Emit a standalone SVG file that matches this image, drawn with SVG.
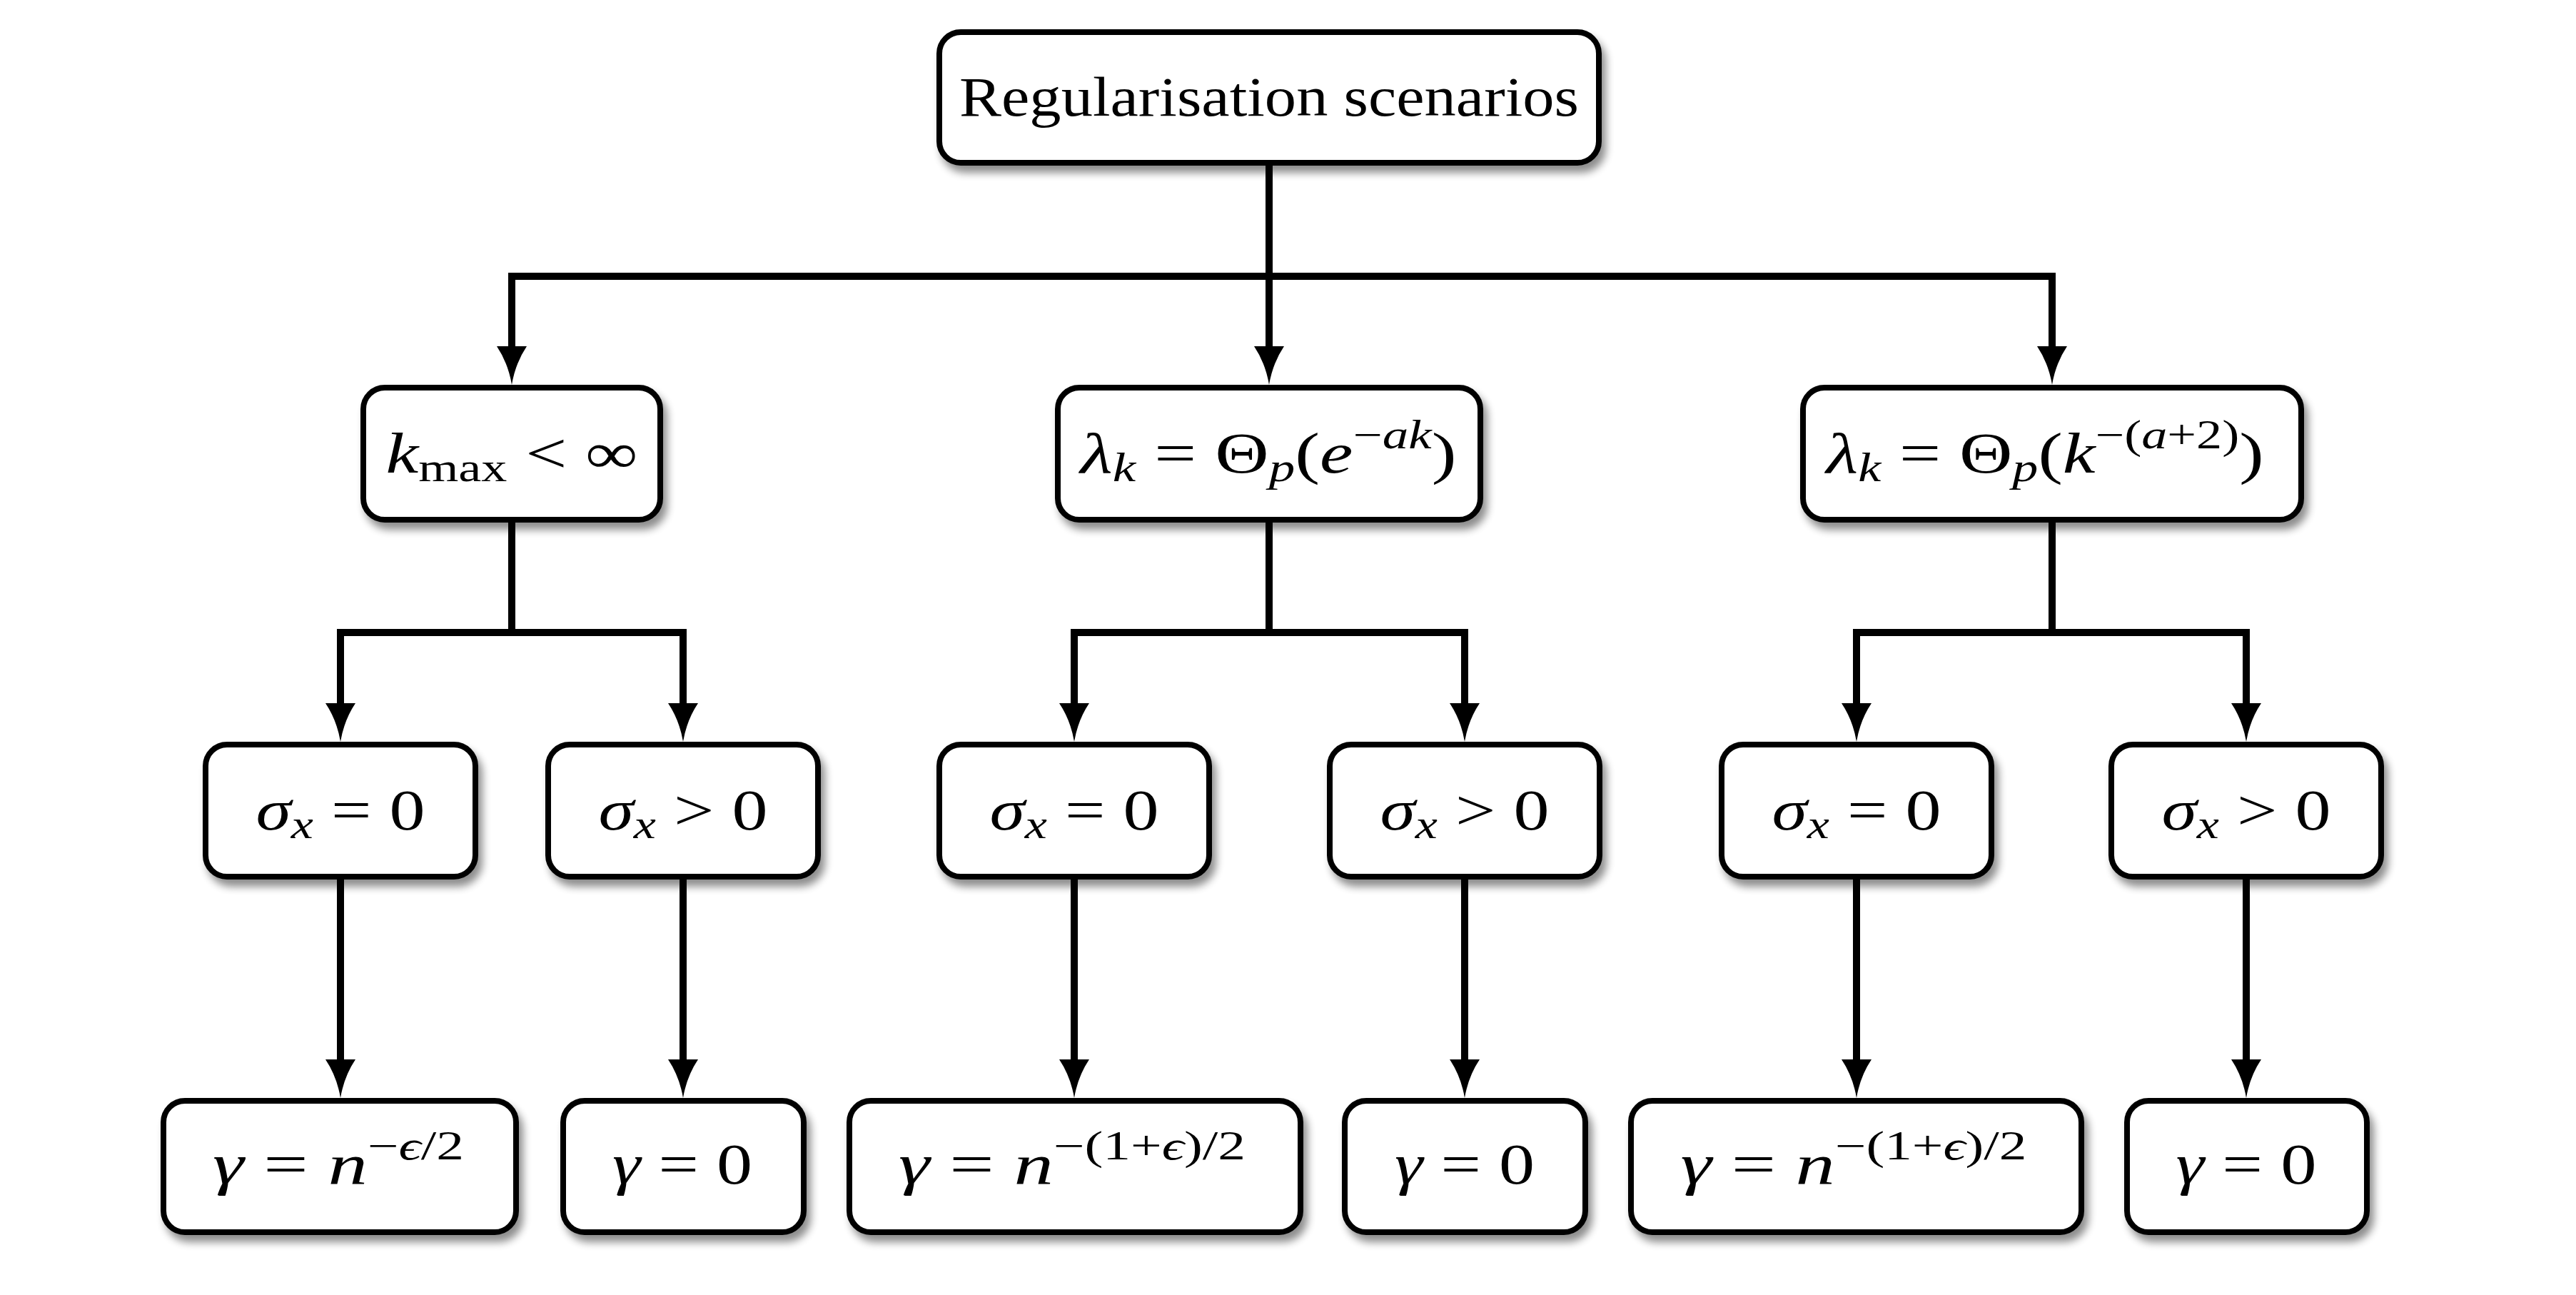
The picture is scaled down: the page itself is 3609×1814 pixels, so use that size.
<svg xmlns="http://www.w3.org/2000/svg" width="3609" height="1814" viewBox="0 0 3609 1814">
<defs>
<filter id="sh" x="-10%" y="-20%" width="130%" height="150%">
<feGaussianBlur in="SourceAlpha" stdDeviation="6"/>
<feOffset dx="6" dy="10" result="b"/>
<feComponentTransfer><feFuncA type="linear" slope="0.45"/></feComponentTransfer>
<feMerge><feMergeNode/><feMergeNode in="SourceGraphic"/></feMerge>
</filter>
<marker id="ah" markerUnits="userSpaceOnUse" orient="auto" refX="0" refY="0" markerWidth="60" markerHeight="50" overflow="visible">
<path d="M-4,-21 Q20,-5 50,0 Q20,5 -4,21 Z" fill="#000"/>
</marker>
</defs>
<style>
.box{fill:#fff;stroke:#000;stroke-width:8;filter:url(#sh)}
.t{font-family:"Liberation Serif","DejaVu Serif",serif;font-size:80px;text-anchor:middle;fill:#000}
.i{font-style:italic}
.s{font-size:56px}
.c{fill:none;stroke:#000;stroke-width:10;stroke-linejoin:miter}
.a{marker-end:url(#ah)}
</style>
<rect width="3609" height="1814" fill="#fff"/>
<g id="connectors">
<path class="c a" d="M1778,228 V387 H717 V489"/>
<path class="c a" d="M1778,228 V489"/>
<path class="c a" d="M1778,228 V387 H2875 V489"/>
<path class="c a" d="M717,728 V886 H477 V989"/>
<path class="c a" d="M717,728 V886 H957 V989"/>
<path class="c a" d="M1778,728 V886 H1505 V989"/>
<path class="c a" d="M1778,728 V886 H2052 V989"/>
<path class="c a" d="M2875,728 V886 H2601 V989"/>
<path class="c a" d="M2875,728 V886 H3147 V989"/>
<path class="c a" d="M477,1228 V1488"/>
<path class="c a" d="M957,1228 V1488"/>
<path class="c a" d="M1505,1228 V1488"/>
<path class="c a" d="M2052,1228 V1488"/>
<path class="c a" d="M2601,1228 V1488"/>
<path class="c a" d="M3147,1228 V1488"/>
</g>
<g id="root">
<rect class="box" x="1316" y="45" width="924" height="183" rx="30"/>
<text class="t" x="1778" y="162" style="font-size:78px" textLength="868" lengthAdjust="spacingAndGlyphs">Regularisation scenarios</text>
</g>
<g id="n_kmax">
<rect class="box" x="509" y="543" width="416" height="185" rx="30"/>
<text class="t" x="717" y="662" textLength="353" lengthAdjust="spacingAndGlyphs"><tspan class="i">k</tspan><tspan class="s" dy="12">max</tspan><tspan dy="-12"> &lt; ∞</tspan></text>
</g>
<g id="n_exp">
<rect class="box" x="1482" y="543" width="592" height="185" rx="30"/>
<text class="t" x="1777" y="662" textLength="527" lengthAdjust="spacingAndGlyphs"><tspan class="i">λ</tspan><tspan class="s i" dy="12">k</tspan><tspan dy="-12"> = Θ</tspan><tspan class="s i" dy="12">p</tspan><tspan dy="-12">(</tspan><tspan class="i">e</tspan><tspan class="s" dy="-34">−</tspan><tspan class="s i">ak</tspan><tspan dy="34">)</tspan></text>
</g>
<g id="n_poly">
<rect class="box" x="2526" y="543" width="698" height="185" rx="30"/>
<text class="t" x="2865" y="662" textLength="613" lengthAdjust="spacingAndGlyphs"><tspan class="i">λ</tspan><tspan class="s i" dy="12">k</tspan><tspan dy="-12"> = Θ</tspan><tspan class="s i" dy="12">p</tspan><tspan dy="-12">(</tspan><tspan class="i">k</tspan><tspan class="s" dy="-34">−(</tspan><tspan class="s i">a</tspan><tspan class="s">+2)</tspan><tspan dy="34">)</tspan></text>
</g>
<g id="n_s1">
<rect class="box" x="288" y="1043" width="378" height="185" rx="30"/>
<text class="t" x="477" y="1162" textLength="237" lengthAdjust="spacingAndGlyphs"><tspan class="i">σ</tspan><tspan class="s i" dy="12">x</tspan><tspan dy="-12"> = 0</tspan></text>
</g>
<g id="n_s2">
<rect class="box" x="768" y="1043" width="378" height="185" rx="30"/>
<text class="t" x="957" y="1162" textLength="237" lengthAdjust="spacingAndGlyphs"><tspan class="i">σ</tspan><tspan class="s i" dy="12">x</tspan><tspan dy="-12"> &gt; 0</tspan></text>
</g>
<g id="n_s3">
<rect class="box" x="1316" y="1043" width="378" height="185" rx="30"/>
<text class="t" x="1505" y="1162" textLength="237" lengthAdjust="spacingAndGlyphs"><tspan class="i">σ</tspan><tspan class="s i" dy="12">x</tspan><tspan dy="-12"> = 0</tspan></text>
</g>
<g id="n_s4">
<rect class="box" x="1863" y="1043" width="378" height="185" rx="30"/>
<text class="t" x="2052" y="1162" textLength="237" lengthAdjust="spacingAndGlyphs"><tspan class="i">σ</tspan><tspan class="s i" dy="12">x</tspan><tspan dy="-12"> &gt; 0</tspan></text>
</g>
<g id="n_s5">
<rect class="box" x="2412" y="1043" width="378" height="185" rx="30"/>
<text class="t" x="2601" y="1162" textLength="237" lengthAdjust="spacingAndGlyphs"><tspan class="i">σ</tspan><tspan class="s i" dy="12">x</tspan><tspan dy="-12"> = 0</tspan></text>
</g>
<g id="n_s6">
<rect class="box" x="2958" y="1043" width="378" height="185" rx="30"/>
<text class="t" x="3147" y="1162" textLength="237" lengthAdjust="spacingAndGlyphs"><tspan class="i">σ</tspan><tspan class="s i" dy="12">x</tspan><tspan dy="-12"> &gt; 0</tspan></text>
</g>
<g id="n_g1">
<rect class="box" x="229" y="1542" width="494" height="184" rx="30"/>
<text class="t" x="474" y="1658" textLength="352" lengthAdjust="spacingAndGlyphs"><tspan class="i">γ</tspan> = <tspan class="i">n</tspan><tspan class="s" dy="-34">−</tspan><tspan class="s i">ϵ</tspan><tspan class="s">/2</tspan></text>
</g>
<g id="n_g2">
<rect class="box" x="789" y="1542" width="337" height="184" rx="30"/>
<text class="t" x="956" y="1658" textLength="196" lengthAdjust="spacingAndGlyphs"><tspan class="i">γ</tspan> = 0</text>
</g>
<g id="n_g3">
<rect class="box" x="1190" y="1542" width="632" height="184" rx="30"/>
<text class="t" x="1502" y="1658" textLength="486" lengthAdjust="spacingAndGlyphs"><tspan class="i">γ</tspan> = <tspan class="i">n</tspan><tspan class="s" dy="-34">−(1+</tspan><tspan class="s i">ϵ</tspan><tspan class="s">)/2</tspan></text>
</g>
<g id="n_g4">
<rect class="box" x="1884" y="1542" width="337" height="184" rx="30"/>
<text class="t" x="2052" y="1658" textLength="196" lengthAdjust="spacingAndGlyphs"><tspan class="i">γ</tspan> = 0</text>
</g>
<g id="n_g5">
<rect class="box" x="2285" y="1542" width="631" height="184" rx="30"/>
<text class="t" x="2597" y="1658" textLength="485" lengthAdjust="spacingAndGlyphs"><tspan class="i">γ</tspan> = <tspan class="i">n</tspan><tspan class="s" dy="-34">−(1+</tspan><tspan class="s i">ϵ</tspan><tspan class="s">)/2</tspan></text>
</g>
<g id="n_g6">
<rect class="box" x="2980" y="1542" width="336" height="184" rx="30"/>
<text class="t" x="3147" y="1658" textLength="197" lengthAdjust="spacingAndGlyphs"><tspan class="i">γ</tspan> = 0</text>
</g>
</svg>
